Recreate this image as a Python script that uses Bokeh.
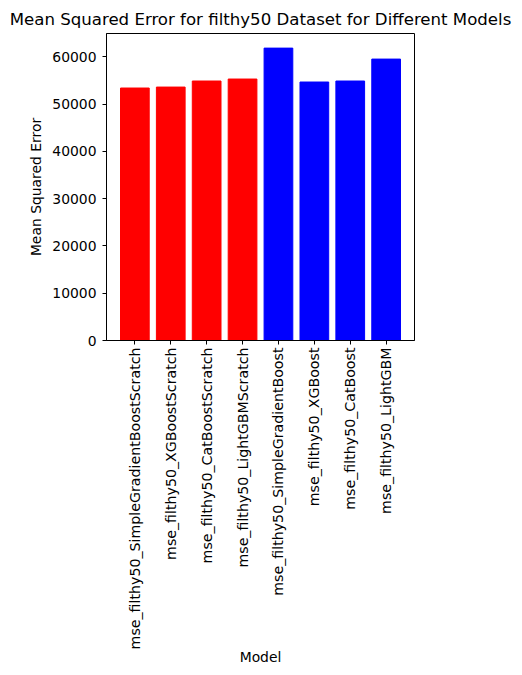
from bokeh.plotting import figure
from bokeh.models import FactorRange, Range1d, ColumnDataSource, SingleIntervalTicker
from bokeh.embed import file_html
from bokeh.resources import INLINE
import math

models = [
    "mse_filthy50_SimpleGradientBoostScratch",
    "mse_filthy50_XGBoostScratch",
    "mse_filthy50_CatBoostScratch",
    "mse_filthy50_LightGBMScratch",
    "mse_filthy50_SimpleGradientBoost",
    "mse_filthy50_XGBoost",
    "mse_filthy50_CatBoost",
    "mse_filthy50_LightGBM",
]
mse = [53400, 53600, 54880, 55300, 61840, 54670, 54880, 59520]
colors = ["#ff0000"] * 4 + ["#0000ff"] * 4

FONT = "DejaVu Sans"

src = ColumnDataSource(dict(model=models, mse=mse, color=colors))

p = figure(
    x_range=FactorRange(factors=models, range_padding=0.29, range_padding_units="absolute"),
    y_range=Range1d(0, max(mse) * 1.05),
    width=520, height=672,
    output_backend="svg", toolbar_location=None,
    title="Mean Squared Error for filthy50 Dataset for Different Models",
    min_border_left=106, min_border_right=106, min_border_top=33, min_border_bottom=332,
)
p.vbar(x="model", top="mse", width=0.8, color="color", source=src)

p.title.text_font = FONT
p.title.text_font_size = "16.6px"
p.title.text_font_style = "normal"
p.title.align = "center"
p.title.text_color = "black"

p.xgrid.visible = False
p.ygrid.visible = False
p.outline_line_color = "black"
p.outline_line_width = 1
p.outline_line_alpha = 1

p.yaxis.ticker = SingleIntervalTicker(interval=10000, num_minor_ticks=0)
for ax in (p.xaxis[0], p.yaxis[0]):
    ax.major_label_text_font = FONT
    ax.major_label_text_font_size = "13.9px"
    ax.major_label_text_color = "black"
    ax.axis_label_text_font = FONT
    ax.axis_label_text_font_size = "13.9px"
    ax.axis_label_text_font_style = "normal"
    ax.axis_label_text_color = "black"
    ax.axis_line_color = "black"
    ax.major_tick_line_color = "black"
    ax.major_tick_out = 4
    ax.major_tick_in = 0
    ax.minor_tick_line_color = None

p.xaxis.major_label_text_font_size = "14.2px"
p.xaxis.major_label_standoff = 3
p.yaxis.major_label_standoff = 6
p.xaxis.axis_label = "Model"
p.yaxis.axis_label = "Mean Squared Error"
p.xaxis.major_label_orientation = math.pi / 2
p.yaxis.axis_label_standoff = 5
p.xaxis.axis_label_standoff = -3

open("out.html", "w").write(file_html(p, INLINE))
